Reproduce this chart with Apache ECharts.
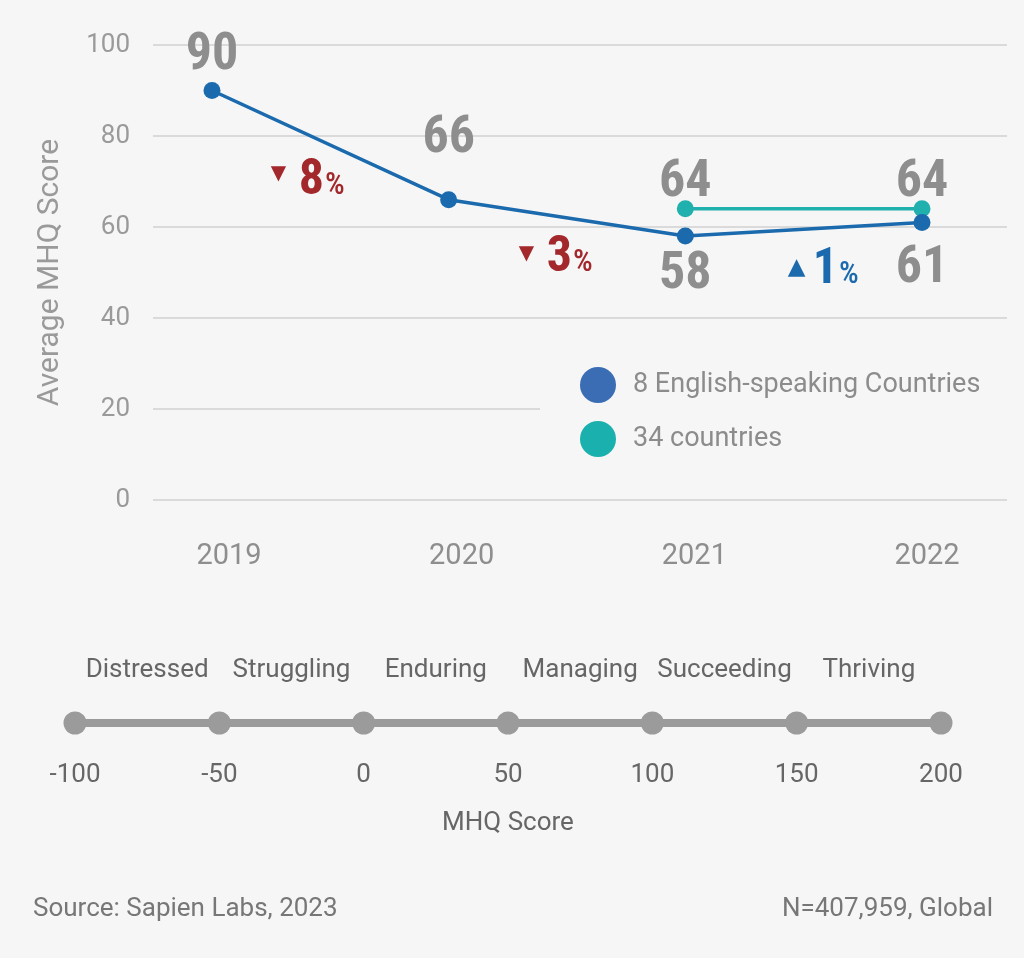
<!DOCTYPE html>
<html>
<head>
<meta charset="utf-8">
<script src="https://cdn.jsdelivr.net/npm/echarts@6/dist/echarts.min.js"></script>
<style>
html,body{margin:0;padding:0;background:#f6f6f6;}
#c{width:1024px;height:958px;}
</style>
</head>
<body>
<div id="c"></div>
<script>
const years = ['2019', '2020', '2021', '2022'];
const englishScores = [90, 66, 58, 61];
const globalScores = [null, null, 64, 64];
const scaleTicks = [-100, -50, 0, 50, 100, 150, 200];
const scaleCategories = ['Distressed', 'Struggling', 'Enduring', 'Managing', 'Succeeding', 'Thriving'];
const changeDirs = ['down', 'down', 'up'];
const changeValues = ['8', '3', '1'];
const seriesNames = ['8 English-speaking Countries', '34 countries'];

const BLUE = '#1b6aae', TEAL = '#20b0ad', RED = '#a3282c', GRAY = '#9b9b9b', LABEL_GRAY = '#8e8e8e';
const NUMFONT = "'Roboto Condensed', Roboto, sans-serif";

// label placement per point (position + distance)
const blueLabel = [
  { position: 'top', distance: 0 },
  { position: 'top', distance: 26 },
  { position: 'bottom', distance: 4 },
  { position: 'bottom', distance: 12 }
];
const tealLabel = { position: 'top', distance: 0, offset: [0, 9] };

// annotation anchors: triangle centre, boundary between number and %, digit bottom
const annPos = [
  { tx: 278.5, ty: 174, bx: 324, by: 194 },
  { tx: 526.5, ty: 253.5, bx: 572, by: 271 },
  { tx: 796.5, ty: 268, bx: 838, by: 283 }
];

const chart = echarts.init(document.getElementById('c'));

function annotation(i) {
  const p = annPos[i];
  const down = changeDirs[i] === 'down';
  const col = down ? RED : BLUE;
  return [
    { type: 'text', x: p.tx, y: p.ty, style: { text: down ? '▼' : '▲', fill: col,
      font: (down ? 20 : 23) + "px 'DejaVu Sans'", textAlign: 'center', textVerticalAlign: 'middle' } },
    { type: 'text', x: p.bx, y: p.by + 12.5, style: { text: changeValues[i], fill: col,
      font: "bold 50px " + NUMFONT, textAlign: 'right', textVerticalAlign: 'bottom' } },
    { type: 'text', x: p.bx + 1, y: p.by + 8, style: { text: '%', fill: col,
      font: "500 31px " + NUMFONT, textAlign: 'left', textVerticalAlign: 'bottom' } }
  ];
}

const option = {
  backgroundColor: '#f6f6f6',
  animation: false,
  grid: [
    { left: 153, right: 17, top: 45, height: 455 },
    { left: 229, width: 698, top: 45, height: 455 },
    { left: 212, width: 710, top: 45, height: 455 },
    { left: 75, width: 866, top: 700, height: 46 }
  ],
  xAxis: [
    { gridIndex: 0, type: 'value', show: false },
    { gridIndex: 1, type: 'category', data: years, boundaryGap: false,
      axisLine: { show: false }, axisTick: { show: false },
      axisLabel: { fontFamily: 'Roboto', fontSize: 29, color: LABEL_GRAY, margin: 42 } },
    { gridIndex: 2, type: 'category', data: years, boundaryGap: false, show: false },
    { gridIndex: 3, type: 'value', min: -100, max: 200, interval: 50, position: 'bottom',
      axisLine: { show: false }, axisTick: { show: false }, splitLine: { show: false },
      axisLabel: { fontFamily: 'Roboto', fontSize: 26, color: '#666', margin: 16 },
      name: 'MHQ Score', nameLocation: 'middle', nameGap: 64,
      nameTextStyle: { fontFamily: 'Roboto', fontSize: 26, color: '#666' } },
    { gridIndex: 3, type: 'category', data: scaleCategories, position: 'top', boundaryGap: true,
      axisLine: { show: false }, axisTick: { show: false },
      axisLabel: { interval: 0, fontFamily: 'Roboto', fontSize: 26, color: '#666', margin: 17 } }
  ],
  yAxis: [
    { gridIndex: 0, type: 'value', min: 0, max: 100, interval: 20,
      axisLine: { show: false }, axisTick: { show: false },
      splitLine: { lineStyle: { color: '#d0d0d0', width: 1.5 } },
      axisLabel: { fontFamily: 'Roboto', fontSize: 26, color: '#9a9a9a', margin: 23 },
      name: 'Average MHQ Score', nameLocation: 'middle', nameGap: 88,
      nameTextStyle: { fontFamily: 'Roboto', fontSize: 30, color: '#9a9a9a' } },
    { gridIndex: 1, type: 'value', min: 0, max: 100, show: false },
    { gridIndex: 2, type: 'value', min: 0, max: 100, show: false },
    { gridIndex: 3, type: 'value', min: -1, max: 1, show: false }
  ],
  legend: {
    orient: 'vertical', left: 540, top: 362,
    data: [
      { name: seriesNames[0], itemStyle: { color: '#3a6db4' } },
      { name: seriesNames[1], itemStyle: { color: '#1ab0ad' } }
    ],
    icon: 'circle', itemWidth: 36, itemHeight: 36, itemGap: 18,
    backgroundColor: '#f6f6f6', padding: [5, 30, 5, 40],
    textStyle: { fontFamily: 'Roboto', fontSize: 27, color: '#8c8c8c', padding: [0, 0, 0, 12] }
  },
  series: [
    { name: seriesNames[1], type: 'line', xAxisIndex: 2, yAxisIndex: 2, data: globalScores,
      symbol: 'circle', symbolSize: 17, lineStyle: { color: TEAL, width: 3.5 }, itemStyle: { color: TEAL },
      label: Object.assign({ show: true, fontFamily: NUMFONT, fontWeight: 'bold', fontSize: 52, color: LABEL_GRAY }, tealLabel) },
    { name: seriesNames[0], type: 'line', xAxisIndex: 2, yAxisIndex: 2,
      data: englishScores.map((v, i) => ({ value: v, label: blueLabel[i] })),
      symbol: 'circle', symbolSize: 17, lineStyle: { color: BLUE, width: 3.5 }, itemStyle: { color: BLUE },
      label: { show: true, fontFamily: NUMFONT, fontWeight: 'bold', fontSize: 52, color: LABEL_GRAY } },
    { name: 'scale', type: 'line', xAxisIndex: 3, yAxisIndex: 3,
      data: scaleTicks.map(v => [v, 0]), symbol: 'circle', symbolSize: 23,
      lineStyle: { color: GRAY, width: 8 }, itemStyle: { color: GRAY }, silent: true }
  ],
  graphic: [].concat(
    annotation(0),
    annotation(1),
    annotation(2),
    [
      { type: 'text', x: 33, y: 909, style: { text: 'Source: Sapien Labs, 2023', font: "26px Roboto", fill: '#777', textVerticalAlign: 'middle' } },
      { type: 'text', x: 993, y: 909, style: { text: 'N=407,959, Global', font: "26px Roboto", fill: '#777', textAlign: 'right', textVerticalAlign: 'middle' } }
    ]
  )
};
chart.setOption(option);
</script>
</body>
</html>
